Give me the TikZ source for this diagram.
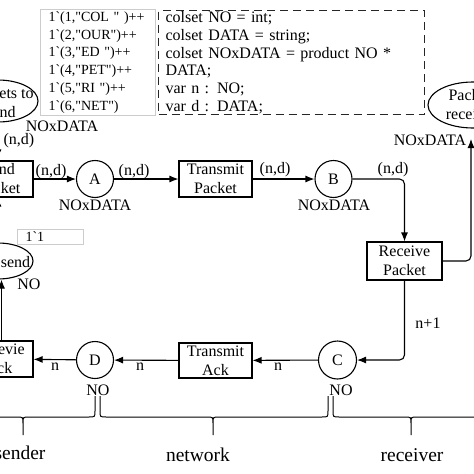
\documentclass[tikz,border=0pt]{standalone}
\usepackage{fontspec}
\setmainfont{Liberation Serif}[Ligatures=TeXOff]
\usetikzlibrary{arrows.meta,shapes.geometric}
\begin{document}
\begin{tikzpicture}[x=1pt,y=-1pt,
  every node/.style={font=\fontsize{16}{19}\selectfont, inner sep=0pt},
  trans/.style={draw, line width=1.1pt, minimum width=73pt, minimum height=36pt, align=center},
  place/.style={circle, draw, line width=1.1pt, minimum size=37pt},
  pellipse/.style={ellipse, draw, line width=1.1pt},
  arc/.style={line width=1.1pt, -{Latex[length=9pt,width=7pt]}},
  small/.style={font=\fontsize{14}{17.8}\selectfont},
  bigl/.style={font=\fontsize{19.5}{22}\selectfont},
  initbox/.style={draw=gray!40, line width=1pt, small, align=left},
  bracestyle/.style={line width=1pt}
]
\useasboundingbox (0,0) rectangle (474,474);
\fill[white] (0,0) rectangle (474,474);
\clip (0,0) rectangle (474,474);

% initial marking and declarations
\node[initbox, anchor=north west, inner xsep=8pt, text width=99pt, minimum height=106pt] (init1) at (40,9)
  {1`(1,"COL " )++\\1`(2,"OUR")++\\1`(3,"ED ")++\\1`(4,"PET")++\\1`(5,"RI ")++\\1`(6,"NET")};
\node[draw=black!85, line width=1.2pt, dash pattern=on 8pt off 5pt, anchor=north west, inner xsep=7pt,
      text width=252pt, minimum height=104pt, align=left, font=\fontsize{16}{17.8}\selectfont] (decl) at (158,10)
  {colset NO = int;\\colset DATA = string;\\colset NOxDATA = product NO *\\DATA;\\var n : NO;\\var d : DATA;};
\node[initbox, anchor=west, inner xsep=8pt, text width=50pt, minimum height=15pt] (init2) at (17,237) {1`1};

% places (ellipses)
\node[pellipse, minimum width=80pt, minimum height=42pt] (pts) at (-2,101) {};
\node[align=center] (ptst) at (1,102.5) {Packets to\\send};
\node[pellipse, minimum width=90pt, minimum height=46pt] (pr) at (473,105) {};
\node[align=center] (prt) at (473,105) {Packets\\received};
\node[pellipse, minimum width=70pt, minimum height=36pt] (ns) at (-2,261) {};
\node (nst) at (-2,262) {Next send};

% transitions and places
\node[trans, minimum width=68pt] (sp) at (-1,179) {Send\\Packet};
\node[place] (A) at (95,179) {A};
\node[trans] (tp) at (215.5,179) {Transmit\\Packet};
\node[place] (B) at (333.5,179) {B};
\node[trans, minimum width=75pt, minimum height=38pt] (rp) at (404.5,261) {Receive\\Packet};
\node[place, minimum size=38pt] (C) at (337.5,360) {C};
\node[trans, minimum height=35pt] (ta) at (215.5,360.5) {Transmit\\Ack};
\node[place] (D) at (95,360) {D};
\node[trans, minimum width=68pt] (ra) at (-1,359) {Recevie\\Ack};

% colour set labels
\node (l1) at (62,126) {NOxDATA};
\node (l2) at (95,205) {NOxDATA};
\node (l3) at (334,205) {NOxDATA};
\node (l4) at (430,140) {NOxDATA};
\node (l5) at (98,390) {NO};
\node (l6) at (341,390) {NO};
\node (l7) at (29,284) {NO};

% arc inscriptions
\node (nd1) at (19,141) {(n,d)};
\node (nd2) at (51,172) {(n,d)};
\node (nd3) at (134,172) {(n,d)};
\node (nd4) at (275,170) {(n,d)};
\node (nd5) at (393,170) {(n,d)};
\node (n1) at (55,367) {n};
\node (n2) at (140,367) {n};
\node (n3) at (278,367) {n};
\node (np1) at (428,323) {n+1};

% arcs
\draw[arc, shorten >=2pt] (pts.south) -- (pts.south |- sp.north);
\draw[arc] (ns.north) -- (ns.north |- sp.south);
\draw[arc] ([xshift=2.5pt]ra.north) -- ([xshift=2.5pt]ra.north |- ns.south);
\draw[arc] (sp) -- (A);
\draw[arc] (A) -- (tp);
\draw[arc] (tp) -- (B);
\draw[arc, rounded corners=5pt] (B) -| (rp);
\draw[arc, rounded corners=5pt] (rp) |- (C);
\coordinate (prin) at (471,139);
\draw[arc, rounded corners=5pt] (rp) -| (prin);
\draw[arc] (C) -- (ta);
\draw[arc] (ta) -- (D);
\draw[arc] (D) -- (ra);

% braces
\draw[bracestyle] (-49,396) -- (-49,411) .. controls (-49,417) .. (-43,417) -- (17,417)
  .. controls (23,417) .. (23,423) -- (23,435) -- (23,423) .. controls (23,417) .. (29,417)
  -- (89,417) .. controls (95,417) .. (95,411) -- (95,396);
\draw[bracestyle] (100,396) -- (100,411) .. controls (100,417) .. (106,417) -- (207,417)
  .. controls (213,417) .. (213,423) -- (213,435) -- (213,423) .. controls (213,417) .. (219,417)
  -- (322,417) .. controls (328,417) .. (328,411) -- (328,396);
\draw[bracestyle] (333,396) -- (333,411) .. controls (333,417) .. (339,417) -- (405,417)
  .. controls (411,417) .. (411,423) -- (411,435) -- (411,423) .. controls (411,417) .. (417,417)
  -- (483,417) .. controls (489,417) .. (489,411) -- (489,396);
\node[bigl] (sender) at (20,453) {sender};
\node[bigl] (network) at (198,455) {network};
\node[bigl] (receiver) at (412,455) {receiver};
\end{tikzpicture}
\end{document}
